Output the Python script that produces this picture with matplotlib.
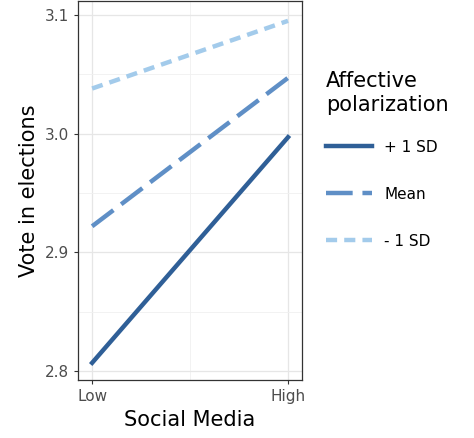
import matplotlib.pyplot as plt

x_vals = [0, 1]
x_labels = ["Low", "High"]
series_names = ["+ 1 SD", "Mean", "- 1 SD"]
plus_sd = [2.807, 2.997]
mean_vals = [2.922, 3.047]
minus_sd = [3.038, 3.095]
y_ticks = [2.8, 2.9, 3.0, 3.1]

colors = ["#2F5F97", "#5F8FC6", "#A3CBEB"]
styles = ["-", (0, (6, 2.2)), (0, (2.5, 1.6))]

fig = plt.figure(figsize=(4.74, 4.38), dpi=100)
ax = fig.add_axes([0.165, 0.132, 0.472, 0.866])

for vals, name, c, ls in zip([plus_sd, mean_vals, minus_sd], series_names, colors, styles):
    ax.plot(x_vals, vals, color=c, linestyle=ls, linewidth=3.2, label=name)

ax.set_xlim(-0.071, 1.071)
ax.set_ylim(2.7924, 3.1118)
ax.set_xticks(x_vals)
ax.set_xticklabels(x_labels)
ax.set_yticks(y_ticks)
ax.set_yticks([2.85, 2.95, 3.05], minor=True)
ax.set_xticks([0.5], minor=True)
ax.grid(True, which="major", color="#E6E6E6", linewidth=0.9)
ax.grid(True, which="minor", color="#F0F0F0", linewidth=0.6)
ax.tick_params(which="minor", length=0)
ax.tick_params(which="major", labelsize=11, labelcolor="#4D4D4D", color="#333333", length=3)
for s in ax.spines.values():
    s.set_color("#333333")
    s.set_linewidth(0.9)
ax.set_xlabel("Social Media", fontsize=15)
ax.set_ylabel("Vote in elections", fontsize=15)

leg = ax.legend(title="Affective\npolarization", loc="upper left",
                bbox_to_anchor=(1.08, 0.83), frameon=False, fontsize=11,
                title_fontsize=15, handlelength=3.0, labelspacing=2.1,
                handletextpad=0.8, borderaxespad=0)
leg._legend_box.align = "left"
leg._legend_box.sep = 18

fig.savefig("out.png", dpi=100)
